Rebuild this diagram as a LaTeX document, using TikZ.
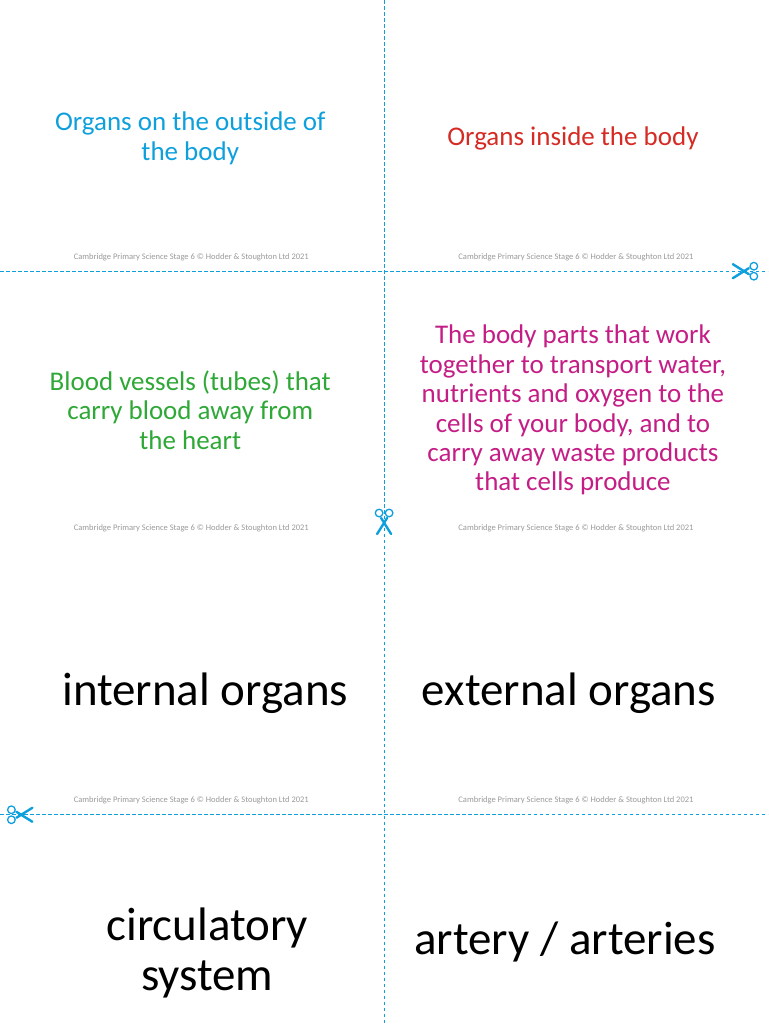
\documentclass[tikz,border=0pt]{standalone}
\usepackage{fontspec}
\setmainfont{Carlito}
\begin{document}
\begin{tikzpicture}[x=1pt,y=-1pt]
\definecolor{cblue}{HTML}{0EA0DC}
\definecolor{cred}{HTML}{D62A24}
\definecolor{cgreen}{HTML}{2EA836}
\definecolor{cmag}{HTML}{C41E86}
\definecolor{cfoot}{HTML}{9A9A9A}
\tikzset{cut/.style={cblue,dashed,dash pattern=on 3.5pt off 2.5pt,line width=0.8pt},
 card/.style={align=center,font=\fontsize{27}{29.5}\selectfont},
 big/.style={align=center,font=\fontsize{47}{50}\selectfont},
 foot/.style={cfoot,font=\fontsize{8.5}{9}\selectfont},
 sciss/.pic={\draw[cblue,line width=2.4pt,line cap=round] (-12,-7)--(4,3) (-12,7)--(4,-3);
  \draw[cblue,line width=1.3pt] (9,5) circle (3.8) (9,-5) circle (3.8);}}
\fill[white] (0,0) rectangle (768,1024);
\draw[cut] (384,0)--(384,1024);
\draw[cut] (0,271)--(768,271);
\draw[cut] (0,815)--(768,815);
\pic at (745,271) {sciss};
\pic[rotate=90] at (384,522) {sciss};
\pic[rotate=180] at (20,815) {sciss};
\node[card,cblue] (a) at (190,138) {Organs on the outside of\\the body};
\node[card,cred] (b) at (573,138) {Organs inside the body};
\node[card,cgreen] (c) at (190,410) {Blood vessels (tubes) that\\carry blood away from\\the heart};
\node[card,cmag] (d) at (573,410) {The body parts that work\\together to transport water,\\nutrients and oxygen to the\\cells of your body, and to\\carry away waste products\\that cells produce};
\node[big] (e) at (205,693) {internal organs};
\node[big] (f) at (569,693) {external organs};
\node[big] (g) at (207,953) {circulatory\\system};
\node[big] (h) at (565,942) {artery / arteries};
\foreach \x/\y/\n in {191/257/f1,576/257/f2,191/528/f3,576/528/f4,191/800/f5,576/800/f6}
 \node[foot] (\n) at (\x,\y) {Cambridge Primary Science Stage 6 © Hodder \& Stoughton Ltd 2021};
\end{tikzpicture}
\end{document}
